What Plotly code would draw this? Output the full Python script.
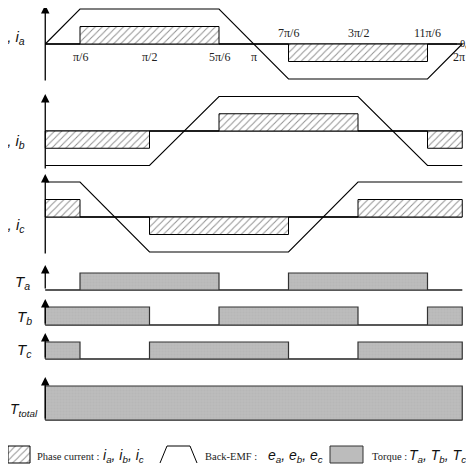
import plotly.graph_objects as go

# page body adds an 8px margin, so the figure is drawn 8px smaller and all
# reference pixel positions are shifted by OFF
OFF = 8
W = H = 474 - OFF

# angle breakpoints in units of pi/6
emf_theta = {
    'a': [0, 1, 5, 7, 11, 12],
    'b': [0, 3, 5, 9, 11, 12],
    'c': [0, 1, 3, 7, 9, 12],
}
emf_val = {
    'a': [0, 1, 1, -1, -1, 0],
    'b': [-1, -1, 1, 1, -1, -1],
    'c': [1, 1, -1, -1, 1, 1],
}

# six-step sectors
sector_edges = [0, 1, 3, 5, 7, 9, 11, 12]
current_a = [0, 0.5, 0.5, 0, -0.5, -0.5, 0]
current_b = [-0.5, -0.5, 0, 0.5, 0.5, 0, -0.5]
current_c = [0.5, 0, -0.5, -0.5, 0, 0.5, 0.5]
torque_a = [0, 1, 1, 0, 1, 1, 0]
torque_b = [1, 1, 0, 1, 1, 0, 1]
torque_c = [1, 0, 1, 1, 0, 1, 1]
torque_total = [2, 2, 2, 2, 2, 2, 2]

tick_pos = [1, 3, 5, 6, 7, 9, 11, 11.9]
tick_text = ['π/6', 'π/2', '5π/6', 'π', '7π/6', '3π/2', '11π/6', '2π']
tick_above = [False, False, False, False, True, True, True, False]

# layout in reference pixels: x of theta=0 and px per pi/6
X0, DX = 45.25 - OFF, 34.75
# panels: (baseline px, px per unit, axis top px, axis bottom px)
panels = [
    (44, 35, 5, 82),
    (131, 34.5, 94, 170),
    (217, 35, 174, 255),
    (290, 17, 265, 290),
    (325, 18, 299, 325),
    (359, 17, 333, 359),
    (420, 17, 377, 420),
]


def px(p):
    return (p - OFF) / W


def py(p):
    return 1 - (p - OFF) / H


HATCH = dict(shape='/', size=5, solidity=0.2, fgcolor='#222', bgcolor='white')
GRAY = '#bcbcbc'


def step_poly(levels):
    xs, ys = [sector_edges[0]], [0]
    for i, v in enumerate(levels):
        xs += [sector_edges[i], sector_edges[i + 1]]
        ys += [v, v]
    xs += [sector_edges[-1], sector_edges[0]]
    ys += [0, 0]
    return xs, ys


fig = go.Figure()
layout = dict(
    width=W, height=H, margin=dict(l=0, r=0, t=0, b=0),
    plot_bgcolor='white', paper_bgcolor='white', showlegend=False,
    xaxis=dict(range=[-X0 / DX, (W - X0) / DX], visible=False),
    xaxis2=dict(range=[OFF, W + OFF], visible=False, overlaying='x'),
)
for i, (b, s, _, _) in enumerate(panels):
    name = 'yaxis' if i == 0 else 'yaxis%d' % (i + 1)
    bb = b - OFF
    ax = dict(range=[-(H - bb) / s, bb / s], visible=False)
    if i:
        ax['overlaying'] = 'y'
    layout[name] = ax
layout['yaxis8'] = dict(range=[H + OFF, OFF], visible=False, overlaying='y')
fig.update_layout(**layout)


def yref(i):
    return 'y' if i == 0 else 'y%d' % (i + 1)


annotations = []
# axes: baseline + vertical arrow
for i, (b, s, top, bot) in enumerate(panels):
    xend = 11.85 if i == 0 else 12
    fig.add_trace(go.Scatter(x=[0, xend], y=[0, 0], mode='lines', yaxis=yref(i),
                             line=dict(color='black', width=1.2), hoverinfo='skip'))
    annotations.append(dict(x=0, y=(b - top) / s, ax=0, ay=(b - bot) / s,
                            xref='x', yref=yref(i), axref='x', ayref=yref(i),
                            showarrow=True, arrowhead=2, arrowsize=1.3, arrowwidth=1.3,
                            arrowcolor='black', text=''))

# currents (hatched)
for i, cur in enumerate([current_a, current_b, current_c]):
    xs, ys = step_poly(cur)
    fig.add_trace(go.Scatter(x=xs, y=ys, mode='lines', fill='toself', yaxis=yref(i),
                             fillcolor='white', fillpattern=HATCH,
                             line=dict(color='black', width=1), hoverinfo='skip'))
# back-emf
for i, k in enumerate(['a', 'b', 'c']):
    fig.add_trace(go.Scatter(x=emf_theta[k], y=emf_val[k], mode='lines', yaxis=yref(i),
                             line=dict(color='black', width=1.1), hoverinfo='skip'))
# torques
for j, tq in enumerate([torque_a, torque_b, torque_c, torque_total]):
    xs, ys = step_poly(tq)
    fig.add_trace(go.Scatter(x=xs, y=ys, mode='lines', fill='toself', yaxis=yref(3 + j),
                             fillcolor=GRAY,
                             fillpattern=dict(shape='+', size=3, solidity=0.2,
                                              fgcolor='#a8a8a8', bgcolor=GRAY),
                             line=dict(color='#333', width=1.2), hoverinfo='skip'))

# tick labels
tick_font = dict(family='Liberation Serif', size=12, color='#222')
for p, t, up in zip(tick_pos, tick_text, tick_above):
    annotations.append(dict(x=p, y=py(33 if up else 57), xref='x', yref='paper',
                            xanchor='center', yanchor='middle',
                            text=t, showarrow=False, font=tick_font))
annotations.append(dict(x=px(458), y=py(44), xref='paper', yref='paper',
                        xanchor='left', yanchor='middle',
                        text='θ<sub>e</sub>', showarrow=False,
                        font=dict(family='Liberation Serif', size=11, color='#222')))

# panel labels
lab_font = dict(family='Liberation Sans', size=15, color='#111')
labels = [
    ('<i>e<sub>a</sub>, i<sub>a</sub></i>', 27, 37),
    ('<i>e<sub>b</sub>, i<sub>b</sub></i>', 27, 141),
    ('<i>e<sub>c</sub>, i<sub>c</sub></i>', 27, 225),
    ('<i>T<sub>a</sub></i>', 32, 282),
    ('<i>T<sub>b</sub></i>', 34, 317),
    ('<i>T<sub>c</sub></i>', 34, 350),
]
for t, lx, ly in labels:
    annotations.append(dict(x=px(lx), y=py(ly), xref='paper', yref='paper',
                            xanchor='right', yanchor='middle',
                            text=t, showarrow=False, font=lab_font))
annotations.append(dict(x=px(8), y=py(410), xref='paper', yref='paper',
                        xanchor='left', yanchor='middle', text='<i>T<sub>total</sub></i>',
                        showarrow=False, font=dict(family='Liberation Sans', size=14,
                                                   color='#111')))

# legend row
LY0, LY1 = 446, 463
fig.add_trace(go.Scatter(x=[OFF, 30, 30, OFF, OFF], y=[LY0, LY0, LY1, LY1, LY0], mode='lines',
                         xaxis='x2', yaxis='y8', fill='toself', fillcolor='white',
                         fillpattern=HATCH, line=dict(color='black', width=1), hoverinfo='skip'))
fig.add_trace(go.Scatter(x=[160, 167, 190, 197], y=[463, 446, 446, 463], mode='lines',
                         xaxis='x2', yaxis='y8', line=dict(color='black', width=1), hoverinfo='skip'))
fig.add_trace(go.Scatter(x=[330, 363, 363, 330, 330], y=[LY0, LY0, LY1, LY1, LY0], mode='lines',
                         xaxis='x2', yaxis='y8', fill='toself', fillcolor=GRAY,
                         line=dict(color='#333', width=1), hoverinfo='skip'))
serif = dict(family='Liberation Serif', size=10.5, color='#222')
sans = dict(family='Liberation Sans', size=14, color='#111')
legend_texts = [
    ('Phase current :', 35, serif),
    ('<i>i<sub>a</sub>, i<sub>b</sub>, i<sub>c</sub></i>', 101, sans),
    ('Back-EMF :', 203, serif),
    ('<i>e<sub>a</sub>, e<sub>b</sub>, e<sub>c</sub></i>', 266, sans),
    ('Torque :', 370, serif),
    ('<i>T<sub>a</sub>, T<sub>b</sub>, T<sub>c</sub></i>', 407, sans),
]
for t, lx, f in legend_texts:
    annotations.append(dict(x=px(lx), y=py(456), xref='paper', yref='paper',
                            xanchor='left', yanchor='middle',
                            text=t, showarrow=False, font=f))

fig.update_layout(annotations=annotations)
fig.write_html("out.html")
